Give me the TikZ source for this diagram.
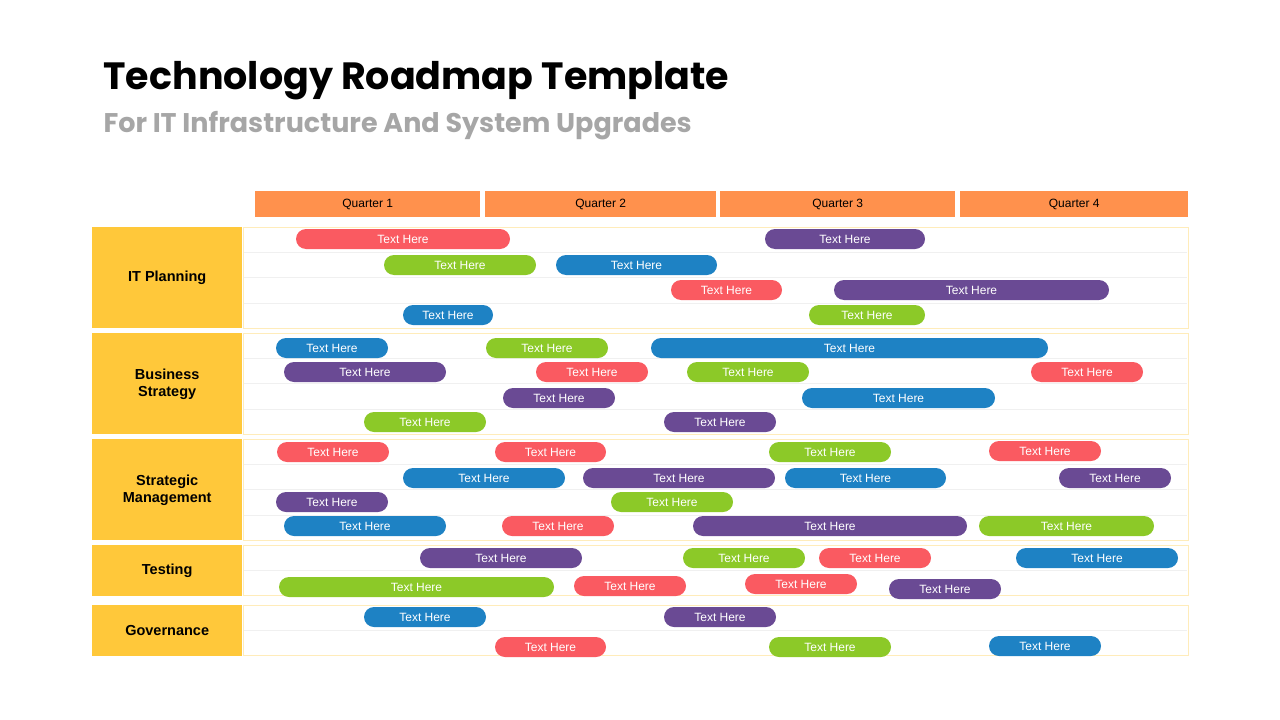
\documentclass[tikz,border=0pt]{standalone}
\usepackage{fontspec}
\setmainfont{Liberation Sans}
\newfontfamily\titlefont{Poppins}
\usetikzlibrary{positioning}
\definecolor{barred}{HTML}{FA5A61}
\definecolor{bargreen}{HTML}{8CC928}
\definecolor{barblue}{HTML}{1E82C4}
\definecolor{barpurple}{HTML}{6A4A94}
\definecolor{qorange}{HTML}{FF914D}
\definecolor{lblyellow}{HTML}{FFC83A}
\definecolor{subgrey}{HTML}{A6A6A6}
\tikzset{
  bar/.style={rounded corners=10pt, minimum height=20pt, inner sep=0pt, text=white, font=\fontsize{12}{12}\selectfont},
  quarter/.style={fill=qorange, minimum height=26pt, inner sep=0pt, font=\fontsize{12}{12}\selectfont},
  grouplabel/.style={fill=lblyellow, inner sep=0pt, align=center, font=\bfseries\fontsize{14.5}{17}\selectfont},
}
\begin{document}
\begin{tikzpicture}[x=1pt, y=-1pt]
    \useasboundingbox (0,0) rectangle (1280,720);
    % title
    \node[anchor=west, font=\titlefont\bfseries\fontsize{38}{40}\selectfont] (title) at (100,81) {Technology Roadmap Template};
    \node[anchor=west, text=subgrey, font=\titlefont\bfseries\fontsize{27}{30}\selectfont] (subtitle) at (100,126) {For IT Infrastructure And System Upgrades};

    % quarters
    \foreach \x/\w/\q in {255/225/1, 485/231/2, 720/235/3, 960/228/4}
        \node[quarter, minimum width=\w pt, anchor=north west] (q\q) at (\x,191) {Quarter \q};

    % groups: top, number of lanes, label
    \foreach \t/\nl/\lbl [count=\g] in {227/4/IT Planning, 333/4/Business\\Strategy, 439/4/Strategic\\Management, 545/2/Testing, 605/2/Governance}{
        \pgfmathsetmacro\h{\nl*25.3}
        \pgfmathtruncatemacro\m{\nl-1}
        \node[grouplabel, minimum width=150pt, minimum height=\h pt, anchor=north west] (g\g) at (92,\t) {\lbl};
        \draw[lblyellow!35, line width=1pt] (243,\t) rectangle (1188,\t+\h);
        \foreach \k in {1,...,\m}
            \draw[gray!12] (244,\t+\k*25.3) -- (1187,\t+\k*25.3);
    }

    % bars: start/end/centre/colour
    \foreach \a/\b/\y/\c [count=\i] in {
        296/510/239/barred, 765/925/239/barpurple,
        384/536/265/bargreen, 556/717/265/barblue,
        671/782/290/barred, 834/1109/290/barpurple,
        403/493/315/barblue, 809/925/315/bargreen,
        276/388/348/barblue, 486/608/348/bargreen, 651/1048/348/barblue,
        284/446/372/barpurple, 536/648/372/barred, 687/809/372/bargreen, 1031/1143/372/barred,
        503/615/398/barpurple, 802/995/398/barblue,
        364/486/422/bargreen, 664/776/422/barpurple,
        277/389/452/barred, 495/606/452/barred, 769/891/452/bargreen, 989/1101/451/barred,
        403/565/478/barblue, 583/775/478/barpurple, 785/946/478/barblue, 1059/1171/478/barpurple,
        276/388/502/barpurple, 611/733/502/bargreen,
        284/446/526/barblue, 502/614/526/barred, 693/967/526/barpurple, 979/1154/526/bargreen,
        420/582/558/barpurple, 683/805/558/bargreen, 819/931/558/barred, 1016/1178/558/barblue,
        279/554/587/bargreen, 574/686/586/barred, 745/857/584/barred, 889/1001/589/barpurple,
        364/486/617/barblue, 664/776/617/barpurple,
        495/606/647/barred, 769/891/647/bargreen, 989/1101/646/barblue}
        \node[bar, fill=\c, minimum width={(\b-\a)*1pt}] (bar\i) at ({(\a+\b)/2},\y) {Text Here};
\end{tikzpicture}
\end{document}
